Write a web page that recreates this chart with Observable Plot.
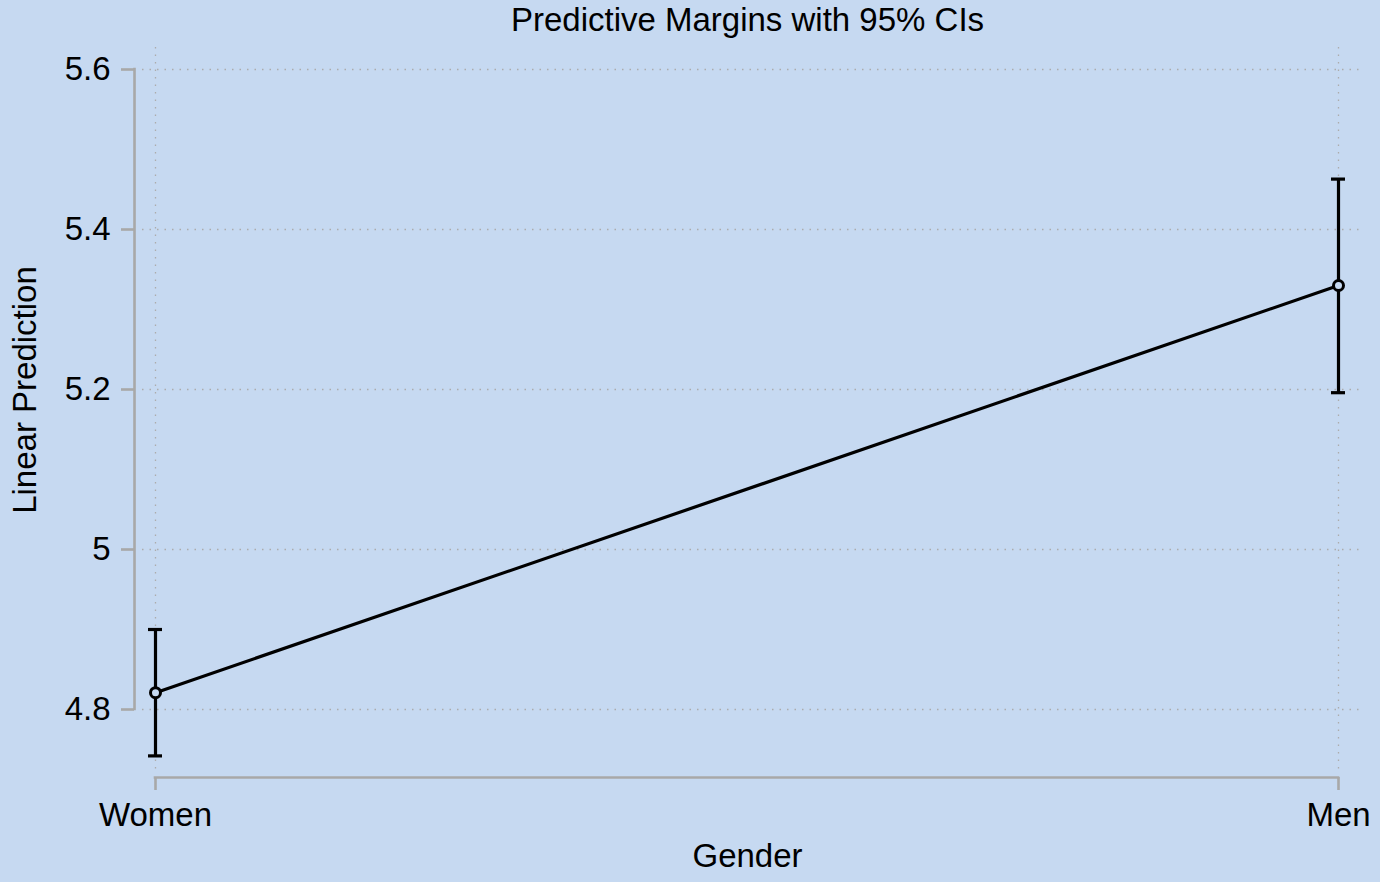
<!DOCTYPE html>
<html>
<head>
<meta charset="utf-8">
<script src="https://cdn.jsdelivr.net/npm/d3@7"></script>
<script src="https://cdn.jsdelivr.net/npm/@observablehq/plot@0.6"></script>
<style>
  html, body { margin: 0; padding: 0; background: #c6d9f1; }
  #chart { width: 1380px; height: 882px; }
</style>
</head>
<body>
<div id="chart"></div>
<script>
// ---- data ----
const genders = ["Women", "Men"];
const predicted = [4.821, 5.330];
const ciLow = [4.742, 5.196];
const ciHigh = [4.900, 5.463];
const yTicks = [4.8, 5.0, 5.2, 5.4, 5.6];
const yTickLabels = ["4.8", "5", "5.2", "5.4", "5.6"];
const titleText = ["Predictive Margins with 95% CIs"];
const xTitle = ["Gender"];
const yTitle = ["Linear Prediction"];

const rows = genders.map((g, i) => ({gender: g, m: predicted[i], lo: ciLow[i], hi: ciHigh[i]}));

const bg = "#c6d9f1";
const axisGray = "#a8a8a8";
const gridGray = "#acacac";
const font = "'Liberation Sans', Arial, Helvetica, sans-serif";

const chart = Plot.plot({
  width: 1380,
  height: 882,
  marginLeft: 142,
  marginRight: 20,
  marginTop: 47,
  marginBottom: 112,
  style: {background: bg, fontFamily: font, color: "black"},
  x: {type: "point", domain: genders, range: [155, 1338], padding: 0, axis: null},
  y: {domain: [yTicks[0], yTicks[yTicks.length - 1]], range: [709, 69], axis: null},
  marks: [
    // dotted grid
    Plot.ruleY(yTicks, {stroke: gridGray, strokeWidth: 1.3, strokeDasharray: "1.5,6"}),
    Plot.ruleX(genders, {stroke: gridGray, strokeWidth: 1.3, strokeDasharray: "1.5,6"}),
    // y axis line + ticks
    Plot.ruleX([genders[0]], {y1: yTicks[0], y2: yTicks[yTicks.length - 1], dx: -21, stroke: axisGray, strokeWidth: 2.6, strokeLinecap: "square"}),
    Plot.axisY(yTicks, {
      anchor: "left", dx: -8, tickSize: 13, tickPadding: 11,
      tickFormat: d => yTickLabels[yTicks.indexOf(d)],
      stroke: axisGray, strokeWidth: 2.6, fill: "black", fontSize: 33, label: null
    }),
    // x axis line + ticks
    Plot.ruleY([yTicks[0]], {x1: () => genders[0], x2: () => genders[genders.length - 1], dy: 68, stroke: axisGray, strokeWidth: 2.6, strokeLinecap: "square"}),
    Plot.axisX(genders, {
      anchor: "bottom", dy: 7, tickSize: 13, tickPadding: 12,
      stroke: axisGray, strokeWidth: 2.6, fill: "black", fontSize: 33, label: null
    }),
    // titles
    Plot.text(titleText, {frameAnchor: "top", lineAnchor: "middle", dx: -4, dy: -27, fontSize: 33, fill: "black"}),
    Plot.text(xTitle, {frameAnchor: "bottom", lineAnchor: "middle", dx: -4, dy: 86, fontSize: 33, fill: "black"}),
    Plot.text(yTitle, {frameAnchor: "left", textAnchor: "middle", lineAnchor: "middle", rotate: -90, dx: -117, dy: -19, fontSize: 33, fill: "black"}),
    // error bars
    Plot.ruleX(rows, {x: "gender", y1: "lo", y2: "hi", stroke: "black", strokeWidth: 3.2}),
    Plot.ruleY(rows, {y: "lo", x1: "gender", x2: "gender", insetLeft: -7, insetRight: -7, stroke: "black", strokeWidth: 3.2}),
    Plot.ruleY(rows, {y: "hi", x1: "gender", x2: "gender", insetLeft: -7, insetRight: -7, stroke: "black", strokeWidth: 3.2}),
    // line + markers
    Plot.line(rows, {x: "gender", y: "m", stroke: "black", strokeWidth: 3.2}),
    Plot.dot(rows, {x: "gender", y: "m", r: 5, stroke: "black", strokeWidth: 3, fill: bg})
  ]
});
document.getElementById("chart").appendChild(chart);
</script>
</body>
</html>
